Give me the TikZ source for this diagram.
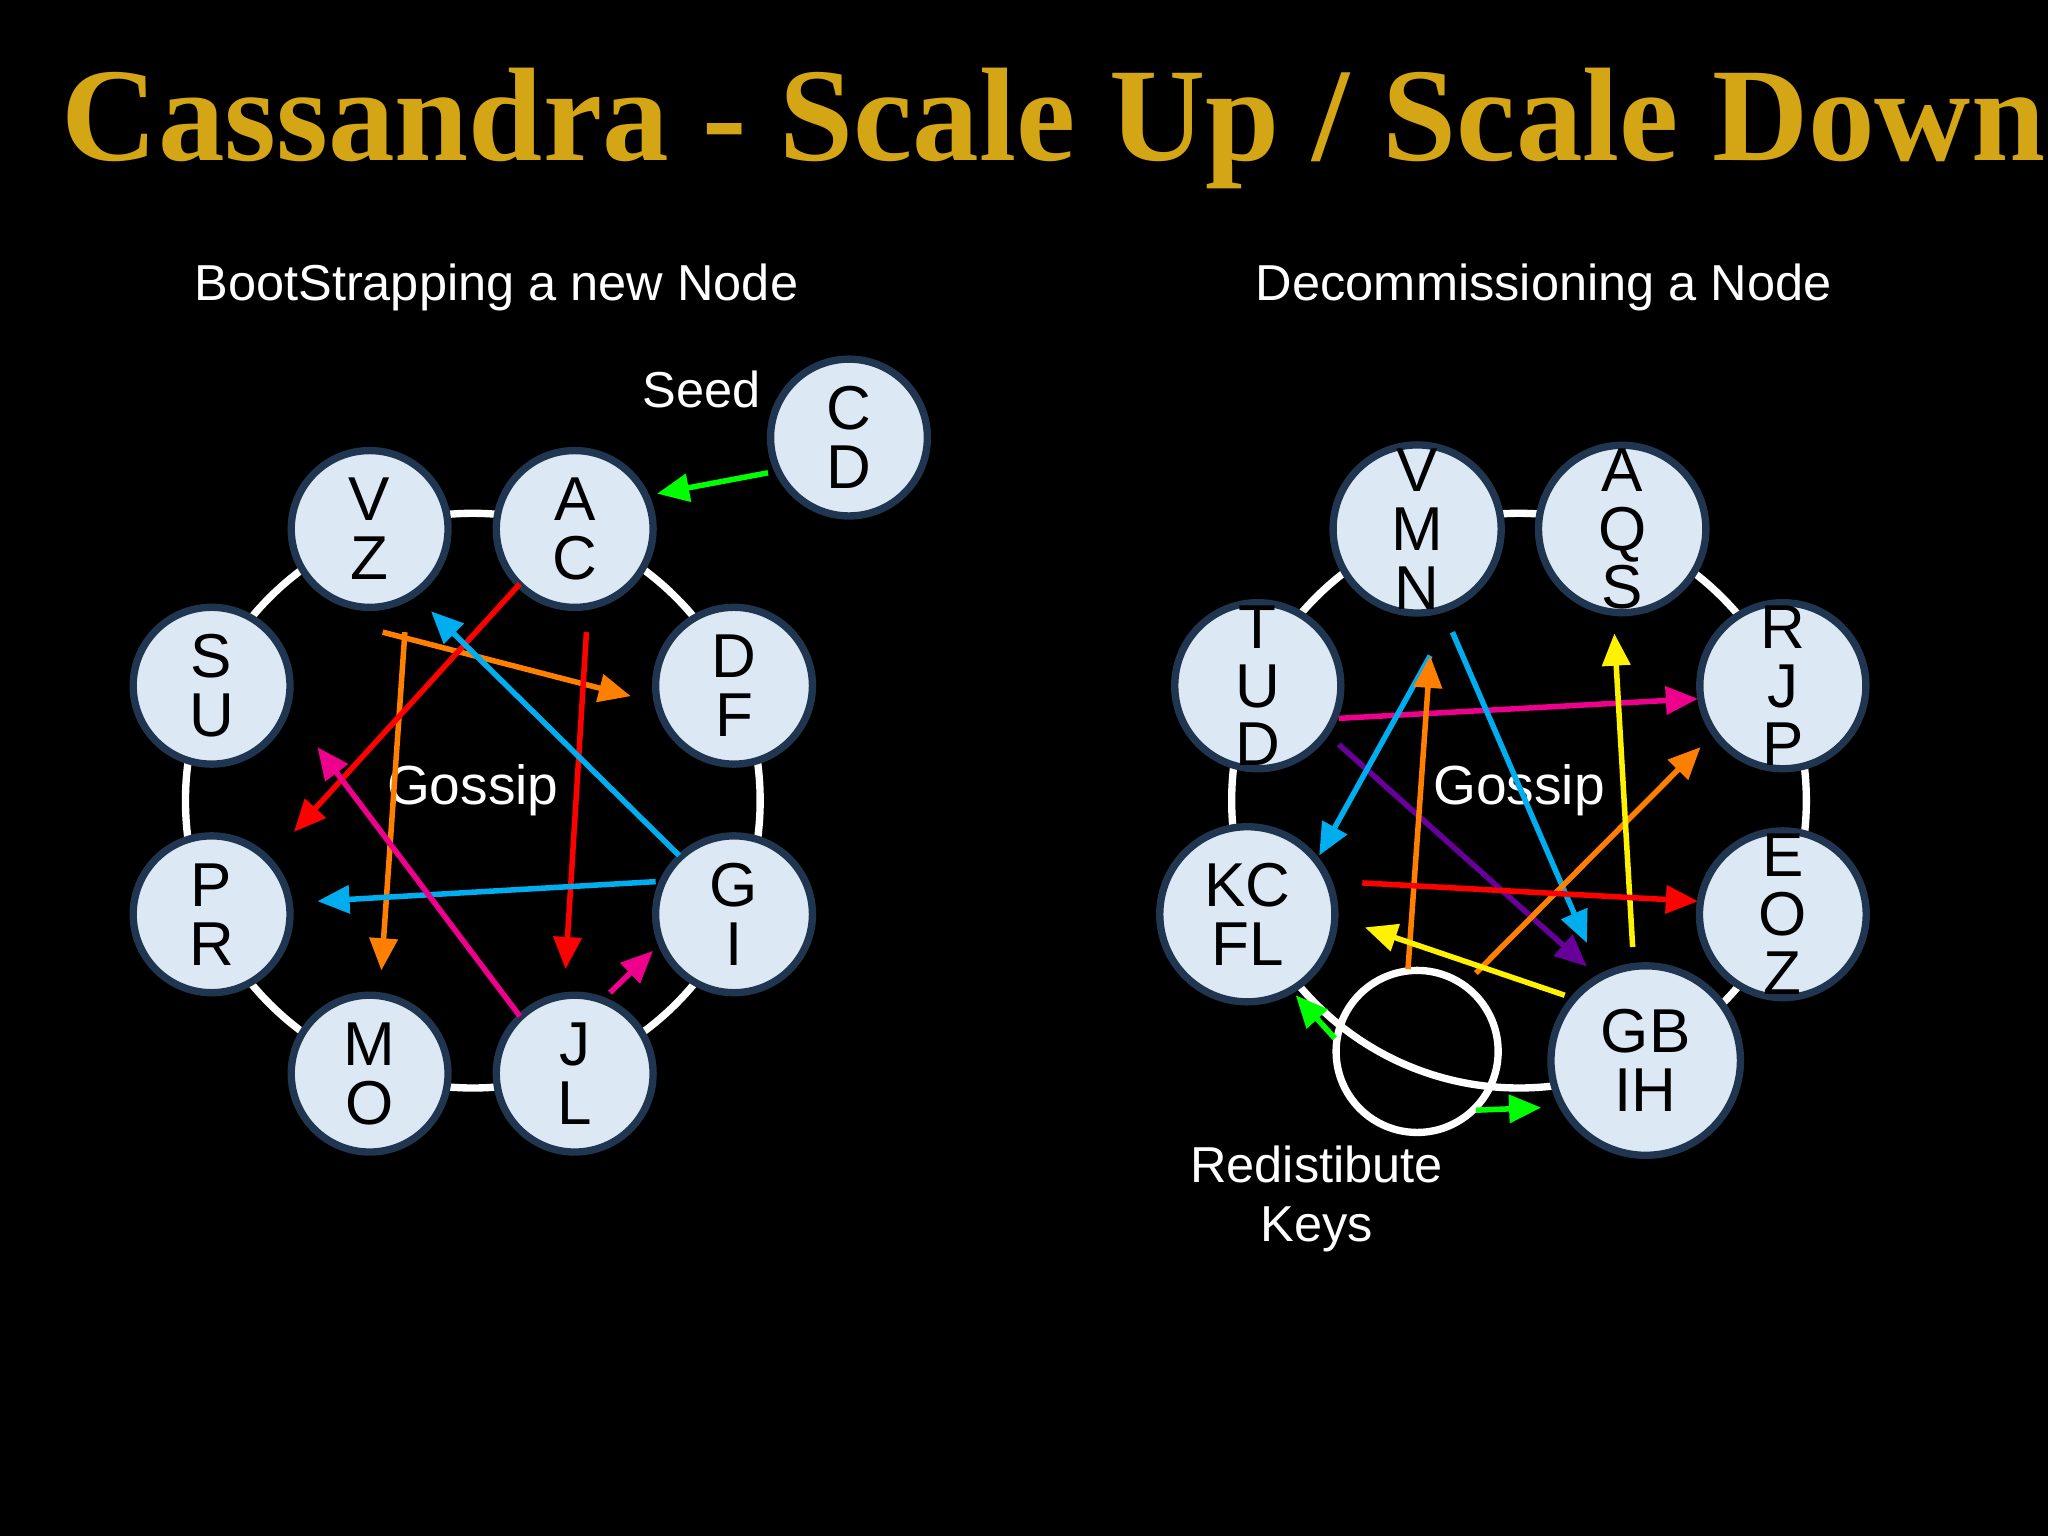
\documentclass[tikz,border=0pt]{standalone}
\usepackage{fontspec}
\setmainfont{Liberation Sans}
\newfontfamily\titlefont{Liberation Serif}
\usetikzlibrary{arrows.meta}
\definecolor{nodefill}{HTML}{DCE8F4}
\definecolor{nodeedge}{HTML}{1F3550}
\definecolor{gold}{HTML}{D4A514}
\tikzset{
 x=0.01cm,y=-0.01cm,
 ring/.style={draw=white,line width=1.6pt},
 cnode/.style={circle,fill=nodefill,draw=nodeedge,line width=1.6pt,minimum size=1.2cm,inner sep=0pt,align=center,font=\fontsize{13.5}{12.8}\selectfont},
 bignode/.style={cnode,minimum size=1.45cm},
 midnode/.style={cnode,minimum size=1.34cm},
 arr/.style={line width=1.2pt,-{Triangle[length=7pt,width=6pt]}},
 lbl/.style={text=white,font=\fontsize{11}{13}\selectfont,align=center}
}
\begin{document}
\begin{tikzpicture}
\fill[black] (0,0) rectangle (1568,1176);
\useasboundingbox (0,0) rectangle (1568,1176);
\node[text=gold,anchor=west,font=\titlefont\bfseries\fontsize{29}{30}\selectfont] (title) at (35,98) {Cassandra - Scale Up / Scale Down};
\node[lbl] (t1) at (380,220) {BootStrapping a new Node};
\node[lbl] (t2) at (1182,220) {Decommissioning a Node};
% left
\draw[ring] (362,613) circle (220);
\node[cnode] (vz) at (283,405) {V\\Z};
\node[cnode] (ac) at (440,405) {A\\C};
\node[cnode] (df) at (562,525) {D\\F};
\node[cnode] (gi) at (562,700) {G\\I};
\node[cnode] (jl) at (440,822) {J\\L};
\node[cnode] (mo) at (283,822) {M\\O};
\node[cnode] (pr) at (162,700) {P\\R};
\node[cnode] (su) at (162,525) {S\\U};
\node[cnode] (cd) at (650,335) {C\\D};
\node[lbl] (seed) at (537,298) {Seed};
\node[lbl,font=\fontsize{12}{13}\selectfont] (g1) at (362,605) {Gossip};
\coordinate (a1) at (588,362); \coordinate (b1) at (503,378);
\draw[arr,green] (a1) -- (b1);
\coordinate (a2) at (293,484); \coordinate (b2) at (483,533);
\draw[arr,orange] (a2) -- (b2);
\coordinate (a3) at (310,484); \coordinate (b3) at (292,743);
\draw[arr,orange] (a3) -- (b3);
\coordinate (a4) at (398,447); \coordinate (b4) at (225,637);
\draw[arr,red] (a4) -- (b4);
\coordinate (a5) at (449,484); \coordinate (b5) at (433,742);
\draw[arr,red] (a5) -- (b5);
\coordinate (a6) at (520,655); \coordinate (b6) at (330,468);
\draw[arr,cyan] (a6) -- (b6);
\coordinate (a7) at (502,675); \coordinate (b7) at (243,690);
\draw[arr,cyan] (a7) -- (b7);
\coordinate (a8) at (398,778); \coordinate (b8) at (243,572);
\draw[arr,magenta] (a8) -- (b8);
\coordinate (a9) at (467,760); \coordinate (b9) at (500,728);
\draw[arr,magenta] (a9) -- (b9);
% right
\draw[ring] (1163,613) circle (220);
\node[cnode] (vmn) at (1085,405) {V\\M\\N};
\node[cnode] (aqs) at (1242,405) {A\\Q\\S};
\node[cnode] (rjp) at (1365,525) {R\\J\\P};
\node[cnode] (eoz) at (1365,700) {E\\O\\Z};
\node[bignode] (gbih) at (1260,812) {GB\\IH};
\node[midnode] (kcfl) at (955,700) {KC\\FL};
\node[cnode] (tud) at (963,525) {T\\U\\D};
\node[circle,draw=white,line width=1.6pt,minimum size=1.24cm] (gap) at (1085,805) {};
\node[lbl] (redis) at (1008,918) {Redistibute\\Keys};
\node[lbl,font=\fontsize{12}{13}\selectfont] (g2) at (1163,605) {Gossip};
\coordinate (c1) at (1025,550); \coordinate (d1) at (1300,535);
\draw[arr,magenta] (c1) -- (d1);
\coordinate (c2) at (1025,570); \coordinate (d2) at (1215,740);
\draw[arr,violet!80!blue] (c2) -- (d2);
\coordinate (c3) at (1095,502); \coordinate (d3) at (1010,655);
\draw[arr,cyan] (c3) -- (d3);
\coordinate (c4) at (1112,484); \coordinate (d4) at (1215,722);
\draw[arr,cyan] (c4) -- (d4);
\coordinate (c5) at (1078,742); \coordinate (d5) at (1095,502);
\draw[arr,orange] (c5) -- (d5);
\coordinate (c6) at (1130,745); \coordinate (d6) at (1302,572);
\draw[arr,orange] (c6) -- (d6);
\coordinate (c7) at (1250,725); \coordinate (d7) at (1236,485);
\draw[arr,yellow] (c7) -- (d7);
\coordinate (c8) at (1198,762); \coordinate (d8) at (1045,710);
\draw[arr,yellow] (c8) -- (d8);
\coordinate (c9) at (1043,676); \coordinate (d9) at (1300,690);
\draw[arr,red] (c9) -- (d9);
\coordinate (c10) at (1022,795); \coordinate (d10) at (992,762);
\draw[arr,green] (c10) -- (d10);
\coordinate (c11) at (1130,850); \coordinate (d11) at (1180,848);
\draw[arr,green] (c11) -- (d11);
\end{tikzpicture}
\end{document}
